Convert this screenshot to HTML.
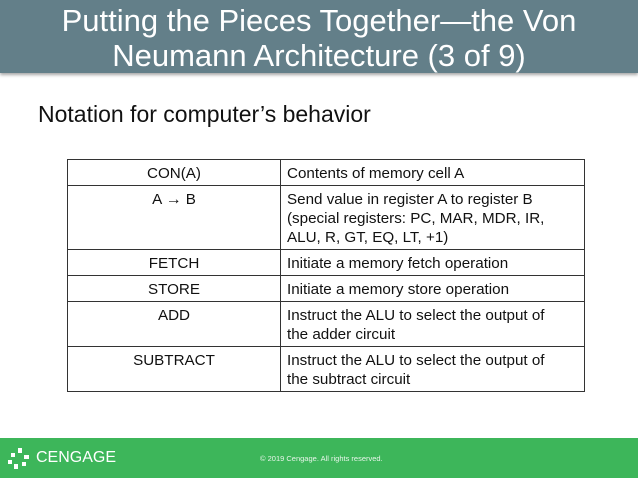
<!DOCTYPE html>
<html><head><meta charset="utf-8"><style>
body{margin:0;width:638px;height:478px;position:relative;background:#fff;font-family:"Liberation Sans",sans-serif;overflow:hidden}
.hdr{position:absolute;left:0;top:0;width:638px;height:73px;background:#637f89;box-shadow:0 2px 3px rgba(0,0,0,.35);color:#fff;text-align:center;font-size:31px;line-height:35px;padding-top:3px;box-sizing:border-box}
.sub{position:absolute;left:38px;top:101px;font-size:23px;color:#111}
table{position:absolute;left:67px;top:159px;border-collapse:collapse;font-size:15.2px;color:#111}
td{border:1px solid #333;padding:4px 6px 2px;line-height:19px;vertical-align:top}
td:first-child{width:200px;text-align:center}
td:last-child{width:291px}
.ftr{position:absolute;left:0;top:438px;width:638px;height:40px;background:#3db65a;color:#fff}
.logo{position:absolute;left:36px;top:11px;font-size:16px;letter-spacing:0}
.copy{position:absolute;left:260px;top:16px;font-size:7.5px;color:#e8f5ea}
</style></head><body>
<div class="hdr">Putting the Pieces Together—the Von<br>Neumann Architecture (3 of 9)</div>
<div class="sub">Notation for computer’s behavior</div>
<table>
<tr><td>CON(A)</td><td>Contents of memory cell A</td></tr>
<tr><td>A <span style="font-size:16px">→</span> B</td><td>Send value in register A to register B<br>(special registers: PC, MAR, MDR, IR,<br>ALU, R, GT, EQ, LT, +1)</td></tr>
<tr><td>FETCH</td><td>Initiate a memory fetch operation</td></tr>
<tr><td>STORE</td><td>Initiate a memory store operation</td></tr>
<tr><td>ADD</td><td>Instruct the ALU to select the output of<br>the adder circuit</td></tr>
<tr><td>SUBTRACT</td><td>Instruct the ALU to select the output of<br>the subtract circuit</td></tr>
</table>
<div class="ftr">
<svg style="position:absolute;left:8px;top:10px" width="26" height="22"><g fill="#fff"><rect x="10" y="0" width="4" height="5"/><rect x="3" y="5" width="4" height="4"/><rect x="16" y="7" width="5" height="4"/><rect x="0" y="12" width="4" height="4"/><rect x="6" y="16" width="4" height="5"/><rect x="14" y="14" width="4" height="4"/></g></svg>
<div class="logo">CENGAGE</div>
<div class="copy">© 2019 Cengage. All rights reserved.</div>
</div>
</body></html>
